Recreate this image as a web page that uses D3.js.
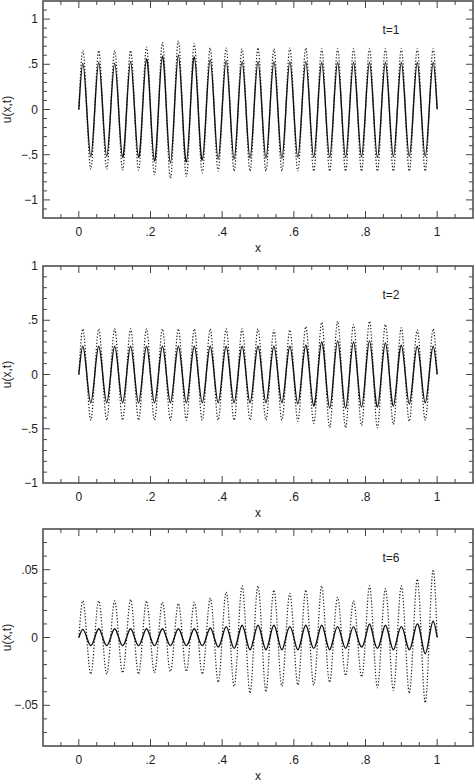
<!DOCTYPE html>
<html><head><meta charset="utf-8">
<script src="https://cdn.jsdelivr.net/npm/d3@7"></script>
<style>body{margin:0;background:#fff}svg{display:block}text{font-family:"Liberation Sans",Arial,sans-serif;fill:#222}</style>
</head><body><svg id="c" width="474" height="781"></svg>
<script>
// Extremum values of each wave: peaks at x=(4k+1)/90, troughs at x=(4k+3)/90 (zero crossings at x=j/45)
const t1SolidPeaks=[.51,.52,.51,.53,.56,.59,.60,.58,.55,.54,.53,.53,.53,.53,.53,.52,.52,.52,.52,.52,.52,.52,.52];
const t1SolidTroughs=[-.52,-.52,-.53,-.53,-.57,-.59,-.58,-.56,-.55,-.55,-.54,-.54,-.54,-.53,-.53,-.53,-.53,-.52,-.53,-.52,-.52,-.52];
const t1DotPeaks=[.65,.65,.65,.65,.69,.74,.76,.73,.68,.68,.67,.68,.67,.68,.68,.67,.67,.67,.67,.67,.67,.67,.67];
const t1DotTroughs=[-.66,-.66,-.67,-.67,-.72,-.76,-.74,-.70,-.68,-.68,-.68,-.68,-.68,-.68,-.68,-.68,-.68,-.68,-.68,-.68,-.68,-.68];
const t2SolidPeaks=[.26,.26,.26,.26,.26,.26,.26,.26,.26,.26,.26,.26,.26,.26,.27,.30,.31,.30,.31,.29,.27,.26,.26];
const t2SolidTroughs=[-.26,-.26,-.26,-.26,-.26,-.26,-.26,-.26,-.26,-.26,-.26,-.26,-.26,-.27,-.29,-.31,-.31,-.30,-.30,-.29,-.27,-.26];
const t2DotPeaks=[.42,.42,.42,.42,.42,.42,.42,.42,.42,.42,.42,.42,.41,.41,.44,.48,.49,.46,.49,.46,.43,.41,.42];
const t2DotTroughs=[-.42,-.42,-.42,-.42,-.42,-.42,-.42,-.42,-.42,-.42,-.42,-.42,-.42,-.43,-.45,-.49,-.49,-.47,-.49,-.46,-.43,-.42];
const t6SolidPeaks=[.006,.0065,.0065,.0065,.0065,.0065,.0065,.0065,.007,.008,.009,.009,.009,.008,.009,.009,.008,.008,.010,.009,.008,.010,.012];
const t6SolidTroughs=[-.006,-.006,-.006,-.006,-.006,-.006,-.006,-.006,-.007,-.008,-.009,-.009,-.009,-.009,-.008,-.009,-.008,-.007,-.008,-.009,-.009,-.012];
const t6DotPeaks=[.027,.027,.027,.028,.027,.026,.025,.026,.029,.0335,.038,.038,.035,.0325,.035,.038,.0296,.027,.038,.036,.038,.043,.05];
const t6DotTroughs=[-.027,-.027,-.026,-.027,-.026,-.025,-.025,-.027,-.033,-.036,-.041,-.040,-.036,-.035,-.035,-.033,-.028,-.029,-.037,-.039,-.041,-.048];
const xTickLabels=["0",".2",".4",".6",".8","1"];
const panelLabels=["t=1","t=2","t=6"];

const panels=[
 {top:1,yd:[-1.2,1.2],major:[-1,-.5,0,.5,1],minorStep:.1,labels:["−1","−.5","0",".5","1"],sp:t1SolidPeaks,st:t1SolidTroughs,dp:t1DotPeaks,dt:t1DotTroughs},
 {top:266,yd:[-1,1],major:[-1,-.5,0,.5,1],minorStep:.1,labels:["−1","−.5","0",".5","1"],sp:t2SolidPeaks,st:t2SolidTroughs,dp:t2DotPeaks,dt:t2DotTroughs},
 {top:529,yd:[-.08,.08],major:[-.05,0,.05],minorStep:.01,labels:["−.05","0",".05"],sp:t6SolidPeaks,st:t6SolidTroughs,dp:t6DotPeaks,dt:t6DotTroughs}
];
const svg=d3.select("#c");
const L=43,R=473,H=217;
const x=d3.scaleLinear().domain([-0.1,1.1]).range([L,R]);
function wave(peaks,troughs){
  const pts=[[0,0]];
  for(let j=0;j<45;j++){
    const v=j%2===0?peaks[j/2]:troughs[(j-1)/2];
    pts.push([(2*j+1)/90,v]);
    pts.push([(j+1)/45,0]);
  }
  return pts;
}
panels.forEach((p,i)=>{
  const y=d3.scaleLinear().domain(p.yd).range([p.top+H,p.top]);
  const g=svg.append("g");
  const line=d3.line().x(d=>x(d[0])).y(d=>y(d[1])).curve(d3.curveNatural);
  g.append("path").attr("d",line(wave(p.dp,p.dt))).attr("fill","none").attr("stroke","#222").attr("stroke-width",1.2).attr("stroke-dasharray","1.3,1.8");
  g.append("path").attr("d",line(wave(p.sp,p.st))).attr("fill","none").attr("stroke","#111").attr("stroke-width",1.4);
  const xMinor=d3.range(-0.05,1.06,0.05).map(v=>+v.toFixed(2));
  const xMajor=[0,.2,.4,.6,.8,1];
  xMinor.forEach(v=>{
    const len=xMajor.some(m=>Math.abs(m-v)<1e-6)?7:4;
    g.append("line").attr("x1",x(v)).attr("x2",x(v)).attr("y1",p.top+H).attr("y2",p.top+H-len).attr("stroke","#444");
    g.append("line").attr("x1",x(v)).attr("x2",x(v)).attr("y1",p.top).attr("y2",p.top+len).attr("stroke","#444");
  });
  const n=Math.round(p.yd[1]/p.minorStep);
  d3.range(-n+1,n).forEach(k=>{
    const v=k*p.minorStep;
    const len=p.major.some(m=>Math.abs(m-v)<1e-6)?7:4;
    g.append("line").attr("x1",L).attr("x2",L+len).attr("y1",y(v)).attr("y2",y(v)).attr("stroke","#444");
    g.append("line").attr("x1",R).attr("x2",R-len).attr("y1",y(v)).attr("y2",y(v)).attr("stroke","#444");
  });
  g.append("rect").attr("x",L).attr("y",p.top).attr("width",R-L).attr("height",H).attr("fill","none").attr("stroke","#444").attr("stroke-width",1.5);
  xMajor.forEach((v,k)=>g.append("text").attr("x",x(v)).attr("y",p.top+H+18).attr("text-anchor","middle").attr("font-size",12).text(xTickLabels[k]));
  g.append("text").attr("x",x(0.5)).attr("y",p.top+H+34).attr("text-anchor","middle").attr("font-size",12).text("x");
  p.major.forEach((v,k)=>g.append("text").attr("x",L-5).attr("y",y(v)+4).attr("text-anchor","end").attr("font-size",12).text(p.labels[k]));
  g.append("text").attr("transform",`translate(11,${p.top+H/2}) rotate(-90)`).attr("text-anchor","middle").attr("font-size",12).text("u(x,t)");
  g.append("text").attr("x",391).attr("y",p.top+33).attr("text-anchor","middle").attr("font-size",12).text(panelLabels[i]);
});
</script></body></html>
